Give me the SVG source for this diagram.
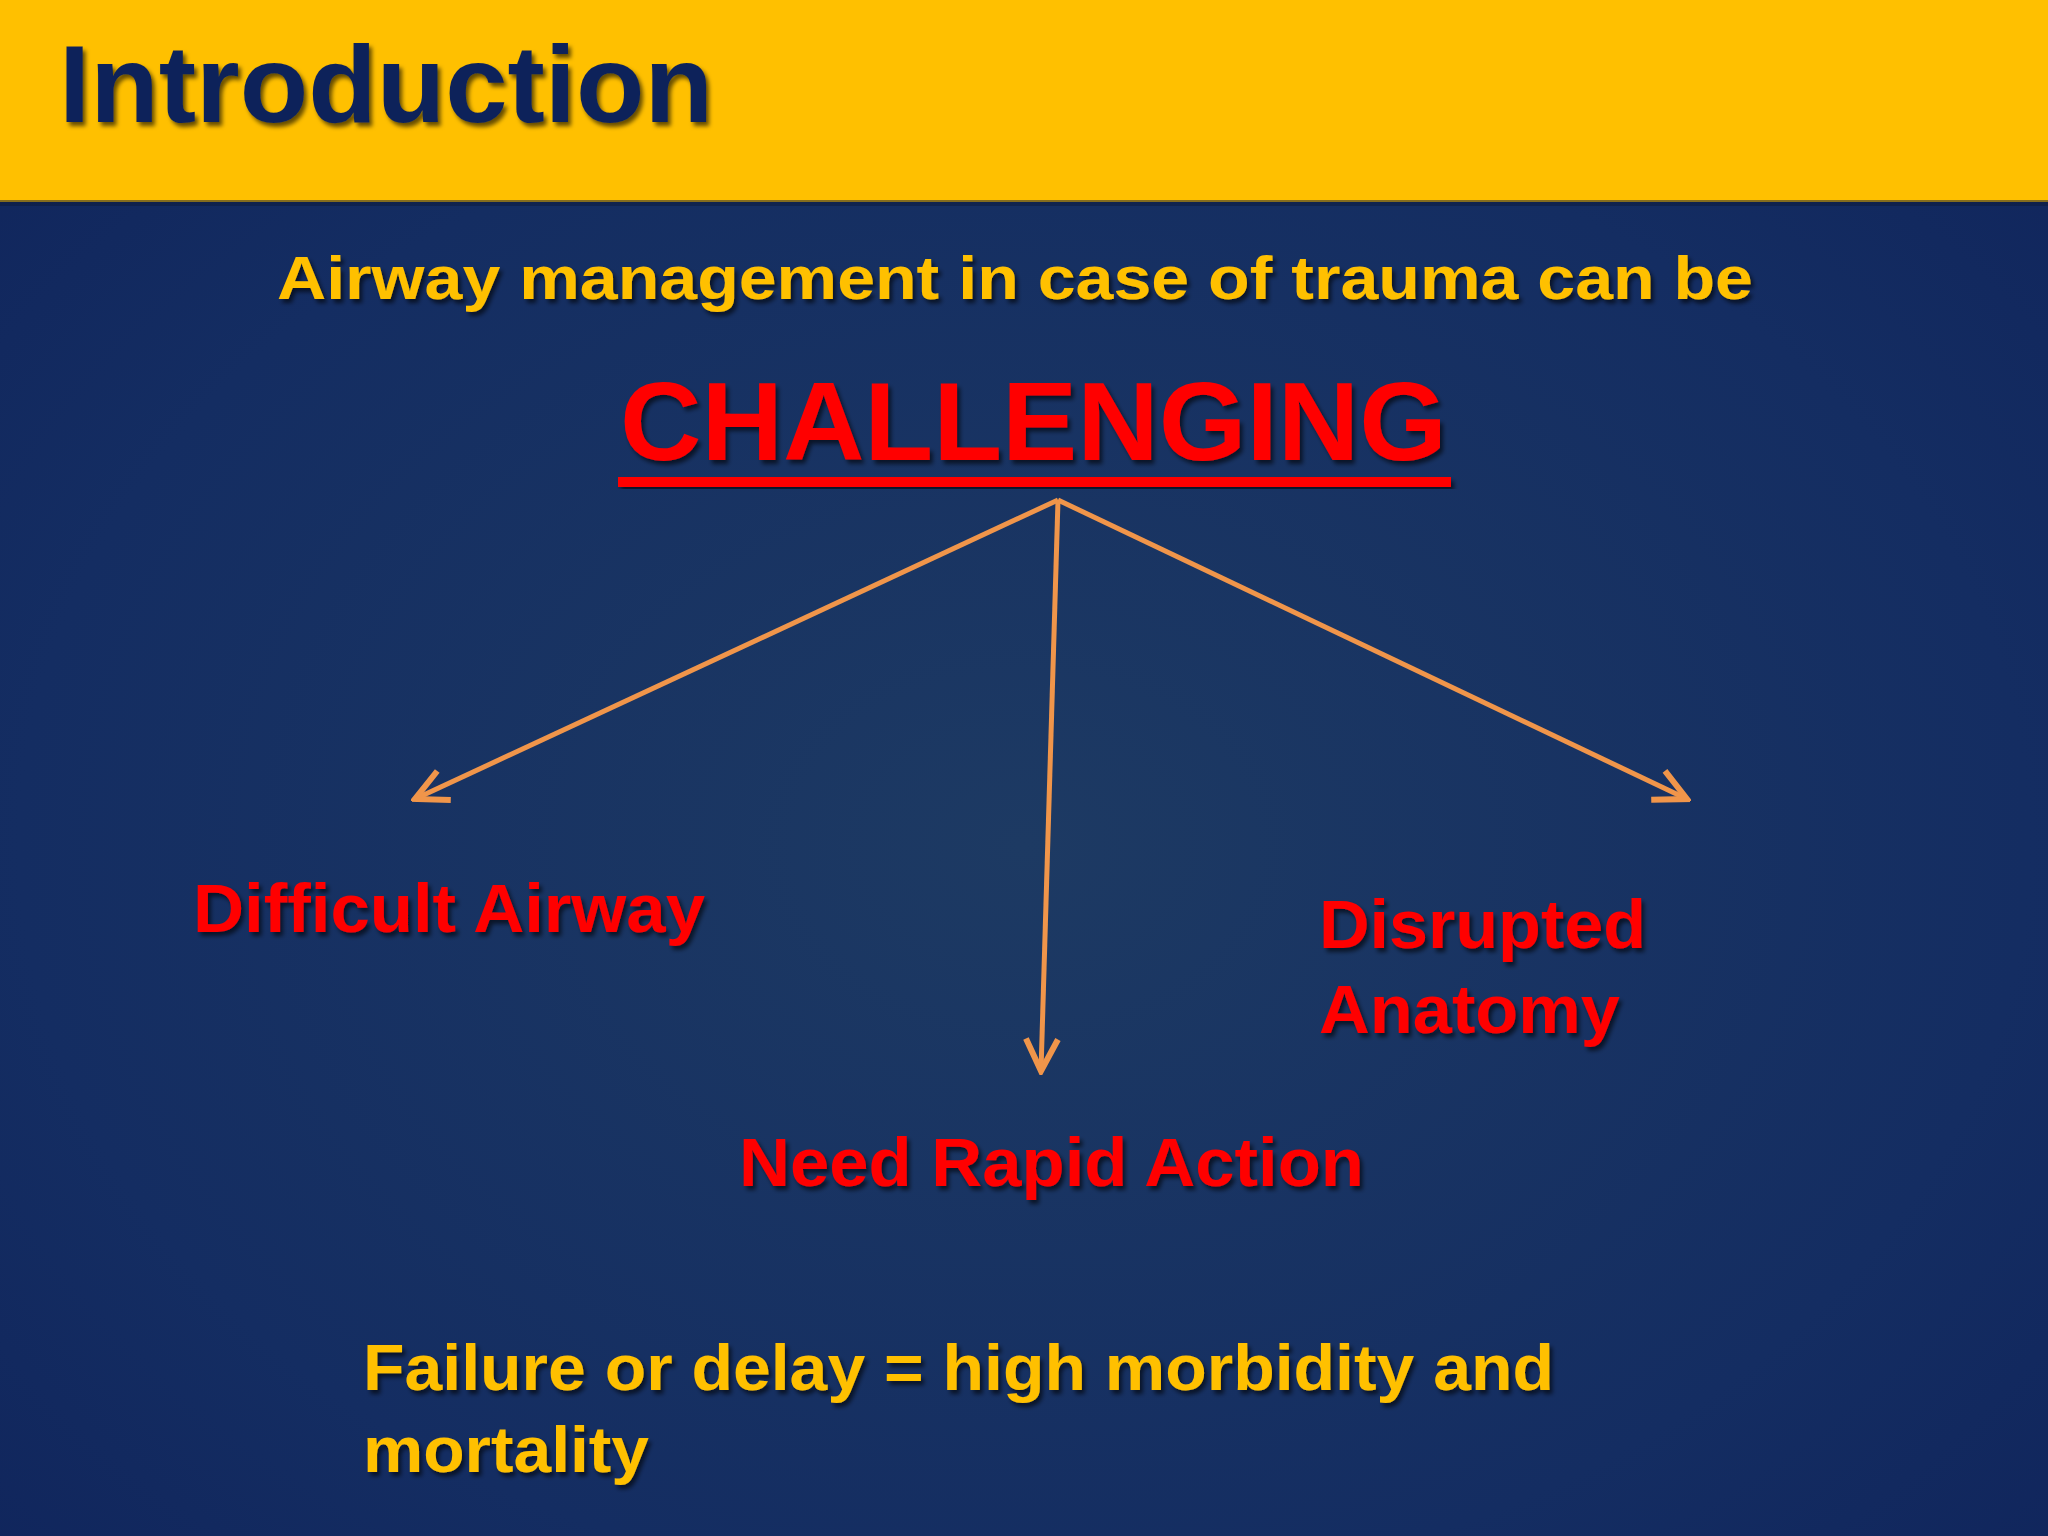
<svg xmlns="http://www.w3.org/2000/svg" width="2048" height="1536" viewBox="0 0 2048 1536">
<defs>
<radialGradient id="bg" cx="0.5" cy="0.55" r="0.7">
<stop offset="0" stop-color="#1d3a63"/>
<stop offset="0.7" stop-color="#142d62"/>
<stop offset="1" stop-color="#10255c"/>
</radialGradient>
<filter id="sh" x="-10%" y="-20%" width="120%" height="140%">
<feDropShadow dx="3" dy="4" stdDeviation="2" flood-color="#000" flood-opacity="0.6"/>
</filter>
<marker id="ah" viewBox="0 0 20 20" refX="18" refY="10" markerWidth="8" markerHeight="8" markerUnits="strokeWidth" orient="auto">
<path d="M2,2 L18,10 L2,18" fill="none" stroke="#f0954a" stroke-width="3"/>
</marker>
<style>
text{font-family:"Liberation Sans",Arial,sans-serif;font-weight:bold;filter:url(#sh)}
.y{fill:#ffc000}
.r{fill:#ff0000}
.c{stroke:#f0954a;stroke-width:5;fill:none;marker-end:url(#ah)}
</style>
</defs>
<rect width="2048" height="1536" fill="url(#bg)"/>
<rect width="2048" height="202" fill="#ffc000"/>
<rect y="200" width="2048" height="6" fill="#0b1a3a" opacity="0.5"/>
<text x="59" y="122" font-size="110" fill="#10245a" textLength="654" lengthAdjust="spacingAndGlyphs">Introduction</text>
<text class="y" x="277" y="299" font-size="62" textLength="1476" lengthAdjust="spacingAndGlyphs">Airway management in case of trauma can be</text>
<g id="challenging">
<text class="r" x="620" y="460" font-size="112" textLength="827" lengthAdjust="spacingAndGlyphs">CHALLENGING</text>
<rect x="618" y="477" width="833" height="10" fill="#ff0000" filter="url(#sh)"/>
</g>
<g id="connectors">
<line class="c" x1="1058" y1="500" x2="415" y2="799"/>
<line class="c" x1="1058" y1="500" x2="1041" y2="1071"/>
<line class="c" x1="1058" y1="500" x2="1687" y2="799"/>
</g>
<g id="difficult"><text class="r" x="193" y="932" font-size="68" textLength="512" lengthAdjust="spacingAndGlyphs">Difficult Airway</text></g>
<g id="disrupted"><text class="r" x="1319" y="948" font-size="68" textLength="327" lengthAdjust="spacingAndGlyphs">Disrupted</text><text class="r" x="1319" y="1033" font-size="68" textLength="301" lengthAdjust="spacingAndGlyphs">Anatomy</text></g>
<g id="rapid"><text class="r" x="739" y="1186" font-size="68" textLength="625" lengthAdjust="spacingAndGlyphs">Need Rapid Action</text></g>
<text class="y" x="363" y="1390" font-size="64" textLength="1191" lengthAdjust="spacingAndGlyphs">Failure or delay = high morbidity and</text>
<text class="y" x="363" y="1472" font-size="64" textLength="286" lengthAdjust="spacingAndGlyphs">mortality</text>
</svg>
